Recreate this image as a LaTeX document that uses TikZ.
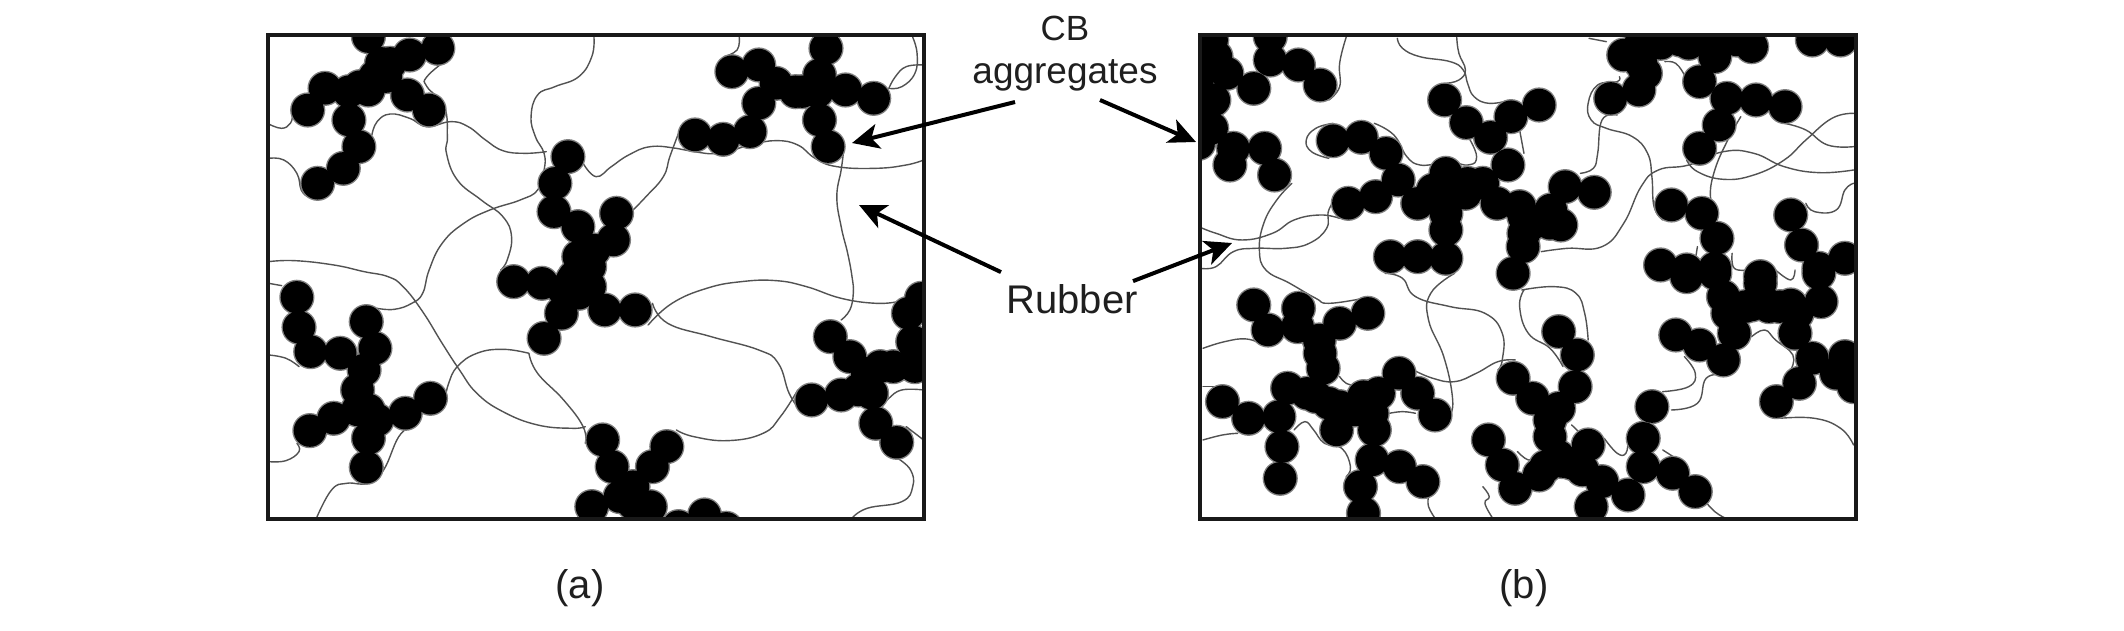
\documentclass[tikz,border=0pt]{standalone}
\usepackage{fontspec}
\setmainfont{Liberation Sans}
\usetikzlibrary{arrows.meta}
\tikzset{
  frameline/.style={draw=black!90,line width=3.6pt},
  chain/.style={draw=black!68,line width=1.4pt,line cap=round,line join=round},
  pointer/.style={draw=black,line width=4pt,-{Stealth[length=27pt,width=25pt,inset=7pt]},shorten <=0pt},
  label/.style={inner sep=0pt,text=black!88,align=center},
  zoomA/.style={shift={(260,20)},x=0.4337pt,y=-0.3333pt},
  zoomB/.style={shift={(1190,20)},x=0.4337pt,y=-0.3333pt},
}
\newcommand{\rub}[1]{\draw[chain] plot[smooth,tension=0.75] coordinates {#1};}
\newcommand{\blobs}[1]{%
  \foreach \px/\py in {#1}{\fill[black!50] (\px,\py) circle[radius=17.6pt];}%
  \foreach \px/\py in {#1}{\fill[black] (\px,\py) circle[radius=16.2pt];}%
}
\begin{document}
\begin{tikzpicture}[x=1pt,y=-1pt]
\useasboundingbox (0,0) rectangle (2124,630);
\fill[white] (0,0) rectangle (2124,630);
% ---------- panel (a)
\begin{scope}
\clip (268,35) rectangle (924,519);
\begin{scope}[zoomA]
\rub{(20,312)(50,325)(70,310)(75,285)}
\rub{(20,415)(55,420)(85,460)(95,510)(110,530)}
\rub{(258,345)(270,305)(300,282)(345,295)(385,320)(440,305)(480,320)(520,360)(560,392)(610,400)(660,395)}
\rub{(770,52)(765,110)(735,170)(680,200)(640,225)(625,290)(635,350)(655,400)(655,450)(640,510)(600,540)(530,570)(470,610)(420,670)(390,750)(375,820)(350,850)(310,868)(270,865)}
\rub{(430,120)(385,170)(385,200)(425,260)(432,350)(430,400)(455,480)(510,540)(560,590)(580,650)(570,720)(555,750)}
\rub{(745,430)(775,470)(810,440)(850,405)(900,380)(960,385)(1000,395)(1060,400)(1130,375)(1190,362)(1240,375)(1280,415)(1330,440)(1420,445)(1490,435)(1530,420)}
\rub{(1105,52)(1100,90)(1070,110)}
\rub{(965,340)(945,410)(930,470)(890,530)(860,570)}
\rub{(1505,52)(1515,100)(1510,160)(1480,200)(1450,205)}
\rub{(1530,135)(1490,140)(1465,170)(1450,205)}
\rub{(1345,400)(1340,450)(1330,530)(1340,620)(1355,700)(1365,770)(1368,820)(1360,870)(1340,900)}
\rub{(20,725)(80,722)(170,735)(240,755)(295,770)(330,800)(375,875)(420,970)(460,1050)(500,1120)(560,1175)(640,1215)(720,1225)(750,1220)}
\rub{(20,790)(50,797)}
\rub{(20,1005)(60,1015)(90,1040)}
\rub{(20,1325)(60,1322)(90,1295)(85,1270)}
\rub{(130,1495)(165,1410)(200,1390)(250,1390)(285,1350)(320,1250)(350,1220)}
\rub{(620,1000)(560,988)(500,1000)(455,1040)(435,1090)(428,1130)}
\rub{(620,1000)(640,1060)(700,1140)(745,1220)(750,1270)}
\rub{(895,915)(950,850)(1030,805)(1110,785)(1190,782)(1260,800)(1340,835)(1420,850)(1470,845)}
\rub{(905,850)(940,910)(1040,950)(1150,990)(1195,1030)(1220,1120)(1245,1170)}
\rub{(1240,1110)(1200,1190)(1160,1240)(1080,1262)(1000,1250)(960,1230)}
\rub{(1530,1110)(1480,1110)(1450,1135)(1435,1160)}
\rub{(1530,1260)(1490,1220)}
\rub{(1470,1315)(1500,1350)(1505,1400)(1480,1445)(1400,1465)(1365,1495)}
\blobs{250/50,410/85,345/105,280/130,290/170,250/210,205/215,150/205,110/270,340/225,390/270,205/300,228/380,192/445,133/490,265/170,230/200,300/130,
1305/85,1290/165,1285/215,1350/210,1415/235,1290/300,1310/380,1235/215,1190/190,1150/135,1088/155,1150/250,1130/335,1068/358,1003/345,1250/215,
710/410,680/490,678/575,733/620,822/580,815/660,770/690,735/710,725/770,585/785,650/790,720/780,735/820,795/870,865/870,695/880,655/955,760/740,700/810,760/800,
85/832,90/922,117/995,185/1000,245/905,265/985,240/1050,225/1110,250/1170,170/1195,115/1232,335/1180,393/1135,250/1255,245/1342,225/1170,270/1200,
1525/835,1495/880,1505/965,1460/1040,1510/1040,1315/950,1360/1010,1400/1060,1410/1120,1340/1125,1272/1140,1420/1210,1468/1267,1430/1040,1380/1110,1530/1000,
790/1260,812/1340,905/1340,938/1280,830/1430,860/1400,765/1460,900/1460,965/1520,1025/1485,1075/1525,860/1450}
\end{scope}
\end{scope}
% ---------- panel (b)
\begin{scope}
\clip (1200,35) rectangle (1856,519);
\begin{scope}[zoomB]
\rub{(360,52)(345,130)(345,200)(320,240)}
\rub{(478,55)(490,85)(530,110)(600,125)(630,150)(640,190)(655,230)(690,250)(740,240)}
\rub{(615,52)(620,100)(635,150)(620,180)(590,190)}
\rub{(920,55)(960,65)}
\rub{(330,310)(290,325)(268,360)(280,395)(320,415)}
\rub{(425,310)(470,345)(500,410)(530,435)(570,430)}
\rub{(610,290)(650,370)(660,420)(640,435)(620,430)}
\rub{(760,330)(770,400)}
\rub{(990,170)(985,185)(940,195)(918,250)(925,300)(960,325)(1020,350)(1055,400)(1065,470)(1070,560)(1090,600)}
\rub{(985,285)(950,300)(940,400)(930,445)(900,460)}
\rub{(20,620)(60,640)(120,660)(190,640)(240,600)(300,585)(345,595)}
\rub{(25,745)(60,740)(100,695)(150,685)(220,685)(275,670)(315,625)(320,570)(345,520)}
\rub{(235,490)(200,540)(170,610)(160,690)(175,750)(230,790)(290,835)(320,850)(400,835)}
\rub{(810,695)(870,685)(950,680)(1000,610)(1040,500)(1080,450)(1150,435)(1230,395)(1300,400)(1370,440)(1450,458)(1530,450)}
\rub{(1530,280)(1480,295)(1420,360)(1370,420)(1300,465)(1230,478)(1170,455)(1145,420)}
\rub{(1270,290)(1240,360)(1210,450)(1200,530)(1215,580)}
\rub{(1370,310)(1420,330)(1470,375)(1530,380)}
\rub{(1095,125)(1120,130)(1140,165)}
\rub{(1530,490)(1510,510)(1490,570)(1440,575)(1420,550)}
\rub{(1250,700)(1255,745)(1290,750)}
\rub{(1350,750)(1385,780)(1395,750)}
\rub{(1170,680)(1165,720)}
\rub{(30,985)(80,965)(130,957)(170,975)}
\rub{(30,1100)(70,1100)}
\rub{(30,1260)(75,1245)(110,1240)}
\rub{(345,1070)(370,1095)(410,1080)}
\rub{(450,760)(490,775)(520,830)(600,860)(680,880)(720,940)(720,1020)(710,1050)}
\rub{(610,760)(555,820)(550,900)(585,1010)(605,1130)(600,1190)(590,1210)}
\rub{(515,1050)(560,1075)(610,1085)(660,1060)(710,1025)(750,1020)}
\rub{(765,810)(840,800)(890,820)(910,880)(918,960)}
\rub{(770,810)(760,860)(780,940)(830,985)(860,1040)}
\rub{(1140,1010)(1165,1060)(1150,1100)(1090,1115)}
\rub{(1230,1065)(1190,1075)(1170,1150)(1110,1170)}
\rub{(1295,950)(1325,930)(1350,960)(1390,1005)(1385,1050)}
\rub{(1360,1195)(1440,1195)(1500,1225)(1530,1275)}
\rub{(880,1215)(900,1240)}
\rub{(955,1255)(985,1300)(1005,1300)(1010,1260)}
\rub{(755,1295)(780,1320)(800,1310)}
\rub{(675,1400)(690,1430)(680,1450)(698,1495)}
\rub{(1185,1440)(1210,1475)(1235,1495)}
\rub{(550,1430)(550,1460)(565,1495)}
\rub{(240,1230)(265,1205)(285,1230)(310,1270)(350,1285)(370,1340)(360,1370)}
\rub{(460,1180)(490,1175)(520,1180)}
\rub{(1090,1290)(1120,1315)}
\blobs{50/60,185/50,185/120,250/135,300/195,85/160,147/205,55/240,50/325,100/385,92/435,172/385,195/465,30/90,30/150,30/40,60/110,30/300,20/370,20/210,
1000/105,1040/130,1085/70,1150/70,1215/70,1295/80,1210/110,1175/185,1238/235,1305/240,1372/260,1220/315,1175/385,1035/210,970/235,1435/60,1500/60,1090/45,1130/60,1190/60,1040/65,1260/60,1050/160,
330/362,395/352,452/400,480/480,428/530,365/550,525/550,590/460,590/530,635/520,675/490,590/630,590/715,525/710,462/710,708/550,770/590,832/570,855/615,865/500,932/517,733/435,693/352,637/308,587/240,740/290,805/255,768/680,745/760,600/490,640/490,560/510,590/580,770/640,790/610,760/560,830/610,
1110/555,1180/580,1215/655,1085/735,1145/750,1210/745,1145/770,1210/760,1230/830,1315/790,1295/855,1335/860,1385/855,1455/845,1450/760,1395/940,1255/940,1230/1020,1175/975,1120/945,1435/1015,1490/1060,1530/1030,1405/1090,1352/1145,1385/585,1410/675,1450/745,1510/715,1315/770,1280/860,1320/840,1240/880,1360/860,1400/880,1510/1010,1530/1100,1500/1060,1530/1060,
147/855,180/930,250/865,248/920,298/960,345/910,410/880,307/1045,225/1105,290/1130,345/1160,395/1170,435/1120,482/1060,525/1120,565/1185,338/1230,425/1230,205/1190,135/1195,75/1145,212/1280,208/1375,420/1320,483/1340,537/1385,393/1400,400/1480,320/1150,380/1170,400/1130,420/1180,270/1120,300/1000,
745/1075,790/1135,850/1165,888/1100,893/1005,850/935,830/1250,918/1275,860/1325,805/1365,905/1350,950/1385,1010/1425,925/1460,750/1405,720/1335,688/1260,1045/1340,1045/1255,1065/1160,1113/1360,1165/1415,850/1310,880/1330,830/1200,820/1340}
\end{scope}
\end{scope}
% ---------- frames
\draw[frameline] (268,35) rectangle (924,519);
\draw[frameline] (1200,35) rectangle (1856,519);
% ---------- labels
\node[label,font=\fontsize{35}{35}\selectfont] (cbtop) at (1065,28) {CB};
\node[label,font=\fontsize{37}{37}\selectfont] (cbbot) at (1065,75) {aggregates};
\node[label,font=\fontsize{40}{40}\selectfont] (rubber) at (1072,299) {Rubber};
\node[label,font=\fontsize{40}{40}\selectfont] (pa) at (580,588) {(a)};
\node[label,font=\fontsize{40}{40}\selectfont] (pb) at (1524,588) {(b)};
% ---------- arrows
\coordinate (tipa) at (852,143);
\coordinate (tipb) at (1196,142);
\coordinate (tipc) at (859,205);
\coordinate (tipd) at (1232,243);
\draw[pointer] ([shift={(-50,11)}]cbbot.south) -- (tipa);
\draw[pointer] ([shift={(35,9)}]cbbot.south) -- (tipb);
\draw[pointer] ([shift={(-71,-12)}]rubber.north) -- (tipc);
\draw[pointer] ([shift={(61,-3)}]rubber.north) -- (tipd);
\end{tikzpicture}
\end{document}
